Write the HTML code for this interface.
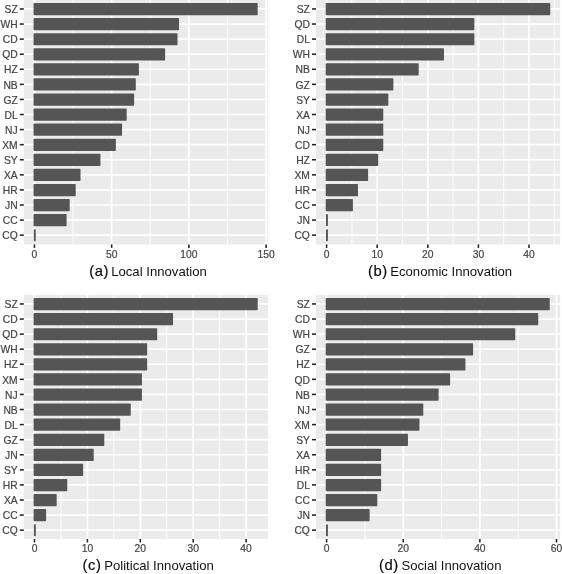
<!DOCTYPE html>
<html><head><meta charset="utf-8"><title>Innovation charts</title>
<style>
html,body{margin:0;padding:0;background:#fff;}
svg{display:block;}
text{font-family:"Liberation Sans",Arial,Helvetica,sans-serif;}
.ax{font-size:10.3px;fill:#444;stroke:#444;stroke-width:0.2px;}
.cap{font-size:13.15px;fill:#111;}
.capl{font-size:14.8px;letter-spacing:0.6px;fill:#0a0a0a;stroke:#0a0a0a;stroke-width:0.18px;}
</style></head><body>
<svg width="562" height="574" viewBox="0 0 562 574">
<rect width="562" height="574" fill="#ffffff"/>

<g>
<rect x="23.80" y="0.00" width="244.00" height="244.40" fill="#ebebeb"/>
<line x1="73.06" y1="0.00" x2="73.06" y2="244.40" stroke="#fff" stroke-width="0.9"/>
<line x1="150.29" y1="0.00" x2="150.29" y2="244.40" stroke="#fff" stroke-width="0.9"/>
<line x1="227.51" y1="0.00" x2="227.51" y2="244.40" stroke="#fff" stroke-width="0.9"/>
<line x1="34.45" y1="0.00" x2="34.45" y2="244.40" stroke="#fff" stroke-width="1.7"/>
<line x1="111.67" y1="0.00" x2="111.67" y2="244.40" stroke="#fff" stroke-width="1.7"/>
<line x1="188.90" y1="0.00" x2="188.90" y2="244.40" stroke="#fff" stroke-width="1.7"/>
<line x1="266.12" y1="0.00" x2="266.12" y2="244.40" stroke="#fff" stroke-width="1.7"/>
<line x1="23.80" y1="8.95" x2="267.80" y2="8.95" stroke="#fff" stroke-width="1.7"/>
<line x1="23.80" y1="24.03" x2="267.80" y2="24.03" stroke="#fff" stroke-width="1.7"/>
<line x1="23.80" y1="39.11" x2="267.80" y2="39.11" stroke="#fff" stroke-width="1.7"/>
<line x1="23.80" y1="54.19" x2="267.80" y2="54.19" stroke="#fff" stroke-width="1.7"/>
<line x1="23.80" y1="69.27" x2="267.80" y2="69.27" stroke="#fff" stroke-width="1.7"/>
<line x1="23.80" y1="84.35" x2="267.80" y2="84.35" stroke="#fff" stroke-width="1.7"/>
<line x1="23.80" y1="99.43" x2="267.80" y2="99.43" stroke="#fff" stroke-width="1.7"/>
<line x1="23.80" y1="114.51" x2="267.80" y2="114.51" stroke="#fff" stroke-width="1.7"/>
<line x1="23.80" y1="129.59" x2="267.80" y2="129.59" stroke="#fff" stroke-width="1.7"/>
<line x1="23.80" y1="144.67" x2="267.80" y2="144.67" stroke="#fff" stroke-width="1.7"/>
<line x1="23.80" y1="159.75" x2="267.80" y2="159.75" stroke="#fff" stroke-width="1.7"/>
<line x1="23.80" y1="174.83" x2="267.80" y2="174.83" stroke="#fff" stroke-width="1.7"/>
<line x1="23.80" y1="189.91" x2="267.80" y2="189.91" stroke="#fff" stroke-width="1.7"/>
<line x1="23.80" y1="204.99" x2="267.80" y2="204.99" stroke="#fff" stroke-width="1.7"/>
<line x1="23.80" y1="220.07" x2="267.80" y2="220.07" stroke="#fff" stroke-width="1.7"/>
<line x1="23.80" y1="235.15" x2="267.80" y2="235.15" stroke="#fff" stroke-width="1.7"/>
<rect x="33.55" y="2.97" width="224.12" height="12.20" rx="0.7" fill="#555555"/>
<rect x="33.55" y="18.05" width="145.50" height="12.20" rx="0.7" fill="#555555"/>
<rect x="33.55" y="33.13" width="143.96" height="12.20" rx="0.7" fill="#555555"/>
<rect x="33.55" y="48.21" width="131.60" height="12.20" rx="0.7" fill="#555555"/>
<rect x="33.55" y="63.29" width="105.34" height="12.20" rx="0.7" fill="#555555"/>
<rect x="33.55" y="78.37" width="102.26" height="12.20" rx="0.7" fill="#555555"/>
<rect x="33.55" y="93.45" width="100.56" height="12.20" rx="0.7" fill="#555555"/>
<rect x="33.55" y="108.53" width="93.14" height="12.20" rx="0.7" fill="#555555"/>
<rect x="33.55" y="123.61" width="88.51" height="12.20" rx="0.7" fill="#555555"/>
<rect x="33.55" y="138.69" width="82.33" height="12.20" rx="0.7" fill="#555555"/>
<rect x="33.55" y="153.77" width="66.89" height="12.20" rx="0.7" fill="#555555"/>
<rect x="33.55" y="168.85" width="46.96" height="12.20" rx="0.7" fill="#555555"/>
<rect x="33.55" y="183.93" width="42.17" height="12.20" rx="0.7" fill="#555555"/>
<rect x="33.55" y="199.01" width="36.15" height="12.20" rx="0.7" fill="#555555"/>
<rect x="33.55" y="214.09" width="33.06" height="12.20" rx="0.7" fill="#555555"/>
<rect x="33.85" y="229.17" width="1.90" height="12.20" rx="0.7" fill="#555555"/>
<line x1="19.80" y1="8.95" x2="23.80" y2="8.95" stroke="#222" stroke-width="1.55"/>
<text class="ax" x="17.70" y="13.10" text-anchor="end">SZ</text>
<line x1="19.80" y1="24.03" x2="23.80" y2="24.03" stroke="#222" stroke-width="1.55"/>
<text class="ax" x="17.70" y="28.18" text-anchor="end">WH</text>
<line x1="19.80" y1="39.11" x2="23.80" y2="39.11" stroke="#222" stroke-width="1.55"/>
<text class="ax" x="17.70" y="43.26" text-anchor="end">CD</text>
<line x1="19.80" y1="54.19" x2="23.80" y2="54.19" stroke="#222" stroke-width="1.55"/>
<text class="ax" x="17.70" y="58.34" text-anchor="end">QD</text>
<line x1="19.80" y1="69.27" x2="23.80" y2="69.27" stroke="#222" stroke-width="1.55"/>
<text class="ax" x="17.70" y="73.42" text-anchor="end">HZ</text>
<line x1="19.80" y1="84.35" x2="23.80" y2="84.35" stroke="#222" stroke-width="1.55"/>
<text class="ax" x="17.70" y="88.50" text-anchor="end">NB</text>
<line x1="19.80" y1="99.43" x2="23.80" y2="99.43" stroke="#222" stroke-width="1.55"/>
<text class="ax" x="17.70" y="103.58" text-anchor="end">GZ</text>
<line x1="19.80" y1="114.51" x2="23.80" y2="114.51" stroke="#222" stroke-width="1.55"/>
<text class="ax" x="17.70" y="118.66" text-anchor="end">DL</text>
<line x1="19.80" y1="129.59" x2="23.80" y2="129.59" stroke="#222" stroke-width="1.55"/>
<text class="ax" x="17.70" y="133.74" text-anchor="end">NJ</text>
<line x1="19.80" y1="144.67" x2="23.80" y2="144.67" stroke="#222" stroke-width="1.55"/>
<text class="ax" x="17.70" y="148.82" text-anchor="end">XM</text>
<line x1="19.80" y1="159.75" x2="23.80" y2="159.75" stroke="#222" stroke-width="1.55"/>
<text class="ax" x="17.70" y="163.90" text-anchor="end">SY</text>
<line x1="19.80" y1="174.83" x2="23.80" y2="174.83" stroke="#222" stroke-width="1.55"/>
<text class="ax" x="17.70" y="178.98" text-anchor="end">XA</text>
<line x1="19.80" y1="189.91" x2="23.80" y2="189.91" stroke="#222" stroke-width="1.55"/>
<text class="ax" x="17.70" y="194.06" text-anchor="end">HR</text>
<line x1="19.80" y1="204.99" x2="23.80" y2="204.99" stroke="#222" stroke-width="1.55"/>
<text class="ax" x="17.70" y="209.14" text-anchor="end">JN</text>
<line x1="19.80" y1="220.07" x2="23.80" y2="220.07" stroke="#222" stroke-width="1.55"/>
<text class="ax" x="17.70" y="224.22" text-anchor="end">CC</text>
<line x1="19.80" y1="235.15" x2="23.80" y2="235.15" stroke="#222" stroke-width="1.55"/>
<text class="ax" x="17.70" y="239.30" text-anchor="end">CQ</text>
<line x1="34.45" y1="244.40" x2="34.45" y2="247.90" stroke="#222" stroke-width="1.55"/>
<text class="ax" x="34.45" y="257.90" text-anchor="middle">0</text>
<line x1="111.67" y1="244.40" x2="111.67" y2="247.90" stroke="#222" stroke-width="1.55"/>
<text class="ax" x="111.67" y="257.90" text-anchor="middle">50</text>
<line x1="188.90" y1="244.40" x2="188.90" y2="247.90" stroke="#222" stroke-width="1.55"/>
<text class="ax" x="188.90" y="257.90" text-anchor="middle">100</text>
<line x1="266.12" y1="244.40" x2="266.12" y2="247.90" stroke="#222" stroke-width="1.55"/>
<text class="ax" x="266.12" y="257.90" text-anchor="middle">150</text>
<text class="capl" x="89.20" y="275.95">(a)</text>
<text class="cap" x="111.20" y="275.95">Local Innovation</text>
</g>
<g>
<rect x="316.00" y="0.00" width="244.20" height="244.40" fill="#ebebeb"/>
<line x1="351.90" y1="0.00" x2="351.90" y2="244.40" stroke="#fff" stroke-width="0.9"/>
<line x1="402.50" y1="0.00" x2="402.50" y2="244.40" stroke="#fff" stroke-width="0.9"/>
<line x1="453.10" y1="0.00" x2="453.10" y2="244.40" stroke="#fff" stroke-width="0.9"/>
<line x1="503.70" y1="0.00" x2="503.70" y2="244.40" stroke="#fff" stroke-width="0.9"/>
<line x1="554.30" y1="0.00" x2="554.30" y2="244.40" stroke="#fff" stroke-width="0.9"/>
<line x1="326.60" y1="0.00" x2="326.60" y2="244.40" stroke="#fff" stroke-width="1.7"/>
<line x1="377.20" y1="0.00" x2="377.20" y2="244.40" stroke="#fff" stroke-width="1.7"/>
<line x1="427.80" y1="0.00" x2="427.80" y2="244.40" stroke="#fff" stroke-width="1.7"/>
<line x1="478.40" y1="0.00" x2="478.40" y2="244.40" stroke="#fff" stroke-width="1.7"/>
<line x1="529.00" y1="0.00" x2="529.00" y2="244.40" stroke="#fff" stroke-width="1.7"/>
<line x1="316.00" y1="8.95" x2="560.20" y2="8.95" stroke="#fff" stroke-width="1.7"/>
<line x1="316.00" y1="24.03" x2="560.20" y2="24.03" stroke="#fff" stroke-width="1.7"/>
<line x1="316.00" y1="39.11" x2="560.20" y2="39.11" stroke="#fff" stroke-width="1.7"/>
<line x1="316.00" y1="54.19" x2="560.20" y2="54.19" stroke="#fff" stroke-width="1.7"/>
<line x1="316.00" y1="69.27" x2="560.20" y2="69.27" stroke="#fff" stroke-width="1.7"/>
<line x1="316.00" y1="84.35" x2="560.20" y2="84.35" stroke="#fff" stroke-width="1.7"/>
<line x1="316.00" y1="99.43" x2="560.20" y2="99.43" stroke="#fff" stroke-width="1.7"/>
<line x1="316.00" y1="114.51" x2="560.20" y2="114.51" stroke="#fff" stroke-width="1.7"/>
<line x1="316.00" y1="129.59" x2="560.20" y2="129.59" stroke="#fff" stroke-width="1.7"/>
<line x1="316.00" y1="144.67" x2="560.20" y2="144.67" stroke="#fff" stroke-width="1.7"/>
<line x1="316.00" y1="159.75" x2="560.20" y2="159.75" stroke="#fff" stroke-width="1.7"/>
<line x1="316.00" y1="174.83" x2="560.20" y2="174.83" stroke="#fff" stroke-width="1.7"/>
<line x1="316.00" y1="189.91" x2="560.20" y2="189.91" stroke="#fff" stroke-width="1.7"/>
<line x1="316.00" y1="204.99" x2="560.20" y2="204.99" stroke="#fff" stroke-width="1.7"/>
<line x1="316.00" y1="220.07" x2="560.20" y2="220.07" stroke="#fff" stroke-width="1.7"/>
<line x1="316.00" y1="235.15" x2="560.20" y2="235.15" stroke="#fff" stroke-width="1.7"/>
<rect x="325.70" y="2.97" width="224.55" height="12.20" rx="0.7" fill="#555555"/>
<rect x="325.70" y="18.05" width="148.65" height="12.20" rx="0.7" fill="#555555"/>
<rect x="325.70" y="33.13" width="148.65" height="12.20" rx="0.7" fill="#555555"/>
<rect x="325.70" y="48.21" width="118.29" height="12.20" rx="0.7" fill="#555555"/>
<rect x="325.70" y="63.29" width="92.99" height="12.20" rx="0.7" fill="#555555"/>
<rect x="325.70" y="78.37" width="67.69" height="12.20" rx="0.7" fill="#555555"/>
<rect x="325.70" y="93.45" width="62.63" height="12.20" rx="0.7" fill="#555555"/>
<rect x="325.70" y="108.53" width="57.57" height="12.20" rx="0.7" fill="#555555"/>
<rect x="325.70" y="123.61" width="57.57" height="12.20" rx="0.7" fill="#555555"/>
<rect x="325.70" y="138.69" width="57.57" height="12.20" rx="0.7" fill="#555555"/>
<rect x="325.70" y="153.77" width="52.51" height="12.20" rx="0.7" fill="#555555"/>
<rect x="325.70" y="168.85" width="42.39" height="12.20" rx="0.7" fill="#555555"/>
<rect x="325.70" y="183.93" width="32.27" height="12.20" rx="0.7" fill="#555555"/>
<rect x="325.70" y="199.01" width="27.21" height="12.20" rx="0.7" fill="#555555"/>
<rect x="326.00" y="214.09" width="1.90" height="12.20" rx="0.7" fill="#555555"/>
<rect x="326.00" y="229.17" width="1.90" height="12.20" rx="0.7" fill="#555555"/>
<line x1="312.00" y1="8.95" x2="316.00" y2="8.95" stroke="#222" stroke-width="1.55"/>
<text class="ax" x="309.90" y="13.10" text-anchor="end">SZ</text>
<line x1="312.00" y1="24.03" x2="316.00" y2="24.03" stroke="#222" stroke-width="1.55"/>
<text class="ax" x="309.90" y="28.18" text-anchor="end">QD</text>
<line x1="312.00" y1="39.11" x2="316.00" y2="39.11" stroke="#222" stroke-width="1.55"/>
<text class="ax" x="309.90" y="43.26" text-anchor="end">DL</text>
<line x1="312.00" y1="54.19" x2="316.00" y2="54.19" stroke="#222" stroke-width="1.55"/>
<text class="ax" x="309.90" y="58.34" text-anchor="end">WH</text>
<line x1="312.00" y1="69.27" x2="316.00" y2="69.27" stroke="#222" stroke-width="1.55"/>
<text class="ax" x="309.90" y="73.42" text-anchor="end">NB</text>
<line x1="312.00" y1="84.35" x2="316.00" y2="84.35" stroke="#222" stroke-width="1.55"/>
<text class="ax" x="309.90" y="88.50" text-anchor="end">GZ</text>
<line x1="312.00" y1="99.43" x2="316.00" y2="99.43" stroke="#222" stroke-width="1.55"/>
<text class="ax" x="309.90" y="103.58" text-anchor="end">SY</text>
<line x1="312.00" y1="114.51" x2="316.00" y2="114.51" stroke="#222" stroke-width="1.55"/>
<text class="ax" x="309.90" y="118.66" text-anchor="end">XA</text>
<line x1="312.00" y1="129.59" x2="316.00" y2="129.59" stroke="#222" stroke-width="1.55"/>
<text class="ax" x="309.90" y="133.74" text-anchor="end">NJ</text>
<line x1="312.00" y1="144.67" x2="316.00" y2="144.67" stroke="#222" stroke-width="1.55"/>
<text class="ax" x="309.90" y="148.82" text-anchor="end">CD</text>
<line x1="312.00" y1="159.75" x2="316.00" y2="159.75" stroke="#222" stroke-width="1.55"/>
<text class="ax" x="309.90" y="163.90" text-anchor="end">HZ</text>
<line x1="312.00" y1="174.83" x2="316.00" y2="174.83" stroke="#222" stroke-width="1.55"/>
<text class="ax" x="309.90" y="178.98" text-anchor="end">XM</text>
<line x1="312.00" y1="189.91" x2="316.00" y2="189.91" stroke="#222" stroke-width="1.55"/>
<text class="ax" x="309.90" y="194.06" text-anchor="end">HR</text>
<line x1="312.00" y1="204.99" x2="316.00" y2="204.99" stroke="#222" stroke-width="1.55"/>
<text class="ax" x="309.90" y="209.14" text-anchor="end">CC</text>
<line x1="312.00" y1="220.07" x2="316.00" y2="220.07" stroke="#222" stroke-width="1.55"/>
<text class="ax" x="309.90" y="224.22" text-anchor="end">JN</text>
<line x1="312.00" y1="235.15" x2="316.00" y2="235.15" stroke="#222" stroke-width="1.55"/>
<text class="ax" x="309.90" y="239.30" text-anchor="end">CQ</text>
<line x1="326.60" y1="244.40" x2="326.60" y2="247.90" stroke="#222" stroke-width="1.55"/>
<text class="ax" x="326.60" y="257.90" text-anchor="middle">0</text>
<line x1="377.20" y1="244.40" x2="377.20" y2="247.90" stroke="#222" stroke-width="1.55"/>
<text class="ax" x="377.20" y="257.90" text-anchor="middle">10</text>
<line x1="427.80" y1="244.40" x2="427.80" y2="247.90" stroke="#222" stroke-width="1.55"/>
<text class="ax" x="427.80" y="257.90" text-anchor="middle">20</text>
<line x1="478.40" y1="244.40" x2="478.40" y2="247.90" stroke="#222" stroke-width="1.55"/>
<text class="ax" x="478.40" y="257.90" text-anchor="middle">30</text>
<line x1="529.00" y1="244.40" x2="529.00" y2="247.90" stroke="#222" stroke-width="1.55"/>
<text class="ax" x="529.00" y="257.90" text-anchor="middle">40</text>
<text class="capl" x="368.00" y="275.95">(b)</text>
<text class="cap" x="390.20" y="275.95">Economic Innovation</text>
</g>
<g>
<rect x="23.80" y="294.90" width="244.20" height="244.05" fill="#ebebeb"/>
<line x1="60.95" y1="294.90" x2="60.95" y2="538.95" stroke="#fff" stroke-width="0.9"/>
<line x1="113.85" y1="294.90" x2="113.85" y2="538.95" stroke="#fff" stroke-width="0.9"/>
<line x1="166.75" y1="294.90" x2="166.75" y2="538.95" stroke="#fff" stroke-width="0.9"/>
<line x1="219.65" y1="294.90" x2="219.65" y2="538.95" stroke="#fff" stroke-width="0.9"/>
<line x1="34.50" y1="294.90" x2="34.50" y2="538.95" stroke="#fff" stroke-width="1.7"/>
<line x1="87.40" y1="294.90" x2="87.40" y2="538.95" stroke="#fff" stroke-width="1.7"/>
<line x1="140.30" y1="294.90" x2="140.30" y2="538.95" stroke="#fff" stroke-width="1.7"/>
<line x1="193.20" y1="294.90" x2="193.20" y2="538.95" stroke="#fff" stroke-width="1.7"/>
<line x1="246.10" y1="294.90" x2="246.10" y2="538.95" stroke="#fff" stroke-width="1.7"/>
<line x1="23.80" y1="303.95" x2="268.00" y2="303.95" stroke="#fff" stroke-width="1.7"/>
<line x1="23.80" y1="319.03" x2="268.00" y2="319.03" stroke="#fff" stroke-width="1.7"/>
<line x1="23.80" y1="334.11" x2="268.00" y2="334.11" stroke="#fff" stroke-width="1.7"/>
<line x1="23.80" y1="349.19" x2="268.00" y2="349.19" stroke="#fff" stroke-width="1.7"/>
<line x1="23.80" y1="364.27" x2="268.00" y2="364.27" stroke="#fff" stroke-width="1.7"/>
<line x1="23.80" y1="379.35" x2="268.00" y2="379.35" stroke="#fff" stroke-width="1.7"/>
<line x1="23.80" y1="394.43" x2="268.00" y2="394.43" stroke="#fff" stroke-width="1.7"/>
<line x1="23.80" y1="409.51" x2="268.00" y2="409.51" stroke="#fff" stroke-width="1.7"/>
<line x1="23.80" y1="424.59" x2="268.00" y2="424.59" stroke="#fff" stroke-width="1.7"/>
<line x1="23.80" y1="439.67" x2="268.00" y2="439.67" stroke="#fff" stroke-width="1.7"/>
<line x1="23.80" y1="454.75" x2="268.00" y2="454.75" stroke="#fff" stroke-width="1.7"/>
<line x1="23.80" y1="469.83" x2="268.00" y2="469.83" stroke="#fff" stroke-width="1.7"/>
<line x1="23.80" y1="484.91" x2="268.00" y2="484.91" stroke="#fff" stroke-width="1.7"/>
<line x1="23.80" y1="499.99" x2="268.00" y2="499.99" stroke="#fff" stroke-width="1.7"/>
<line x1="23.80" y1="515.07" x2="268.00" y2="515.07" stroke="#fff" stroke-width="1.7"/>
<line x1="23.80" y1="530.15" x2="268.00" y2="530.15" stroke="#fff" stroke-width="1.7"/>
<rect x="33.60" y="297.97" width="224.11" height="12.20" rx="0.7" fill="#555555"/>
<rect x="33.60" y="313.05" width="139.47" height="12.20" rx="0.7" fill="#555555"/>
<rect x="33.60" y="328.13" width="123.60" height="12.20" rx="0.7" fill="#555555"/>
<rect x="33.60" y="343.21" width="113.55" height="12.20" rx="0.7" fill="#555555"/>
<rect x="33.60" y="358.29" width="113.55" height="12.20" rx="0.7" fill="#555555"/>
<rect x="33.60" y="373.37" width="108.36" height="12.20" rx="0.7" fill="#555555"/>
<rect x="33.60" y="388.45" width="108.36" height="12.20" rx="0.7" fill="#555555"/>
<rect x="33.60" y="403.53" width="97.15" height="12.20" rx="0.7" fill="#555555"/>
<rect x="33.60" y="418.61" width="86.57" height="12.20" rx="0.7" fill="#555555"/>
<rect x="33.60" y="433.69" width="70.70" height="12.20" rx="0.7" fill="#555555"/>
<rect x="33.60" y="448.77" width="60.12" height="12.20" rx="0.7" fill="#555555"/>
<rect x="33.60" y="463.85" width="49.54" height="12.20" rx="0.7" fill="#555555"/>
<rect x="33.60" y="478.93" width="33.67" height="12.20" rx="0.7" fill="#555555"/>
<rect x="33.60" y="494.01" width="23.09" height="12.20" rx="0.7" fill="#555555"/>
<rect x="33.60" y="509.09" width="12.51" height="12.20" rx="0.7" fill="#555555"/>
<rect x="33.90" y="524.17" width="1.90" height="12.20" rx="0.7" fill="#555555"/>
<line x1="19.80" y1="303.95" x2="23.80" y2="303.95" stroke="#222" stroke-width="1.55"/>
<text class="ax" x="17.70" y="308.10" text-anchor="end">SZ</text>
<line x1="19.80" y1="319.03" x2="23.80" y2="319.03" stroke="#222" stroke-width="1.55"/>
<text class="ax" x="17.70" y="323.18" text-anchor="end">CD</text>
<line x1="19.80" y1="334.11" x2="23.80" y2="334.11" stroke="#222" stroke-width="1.55"/>
<text class="ax" x="17.70" y="338.26" text-anchor="end">QD</text>
<line x1="19.80" y1="349.19" x2="23.80" y2="349.19" stroke="#222" stroke-width="1.55"/>
<text class="ax" x="17.70" y="353.34" text-anchor="end">WH</text>
<line x1="19.80" y1="364.27" x2="23.80" y2="364.27" stroke="#222" stroke-width="1.55"/>
<text class="ax" x="17.70" y="368.42" text-anchor="end">HZ</text>
<line x1="19.80" y1="379.35" x2="23.80" y2="379.35" stroke="#222" stroke-width="1.55"/>
<text class="ax" x="17.70" y="383.50" text-anchor="end">XM</text>
<line x1="19.80" y1="394.43" x2="23.80" y2="394.43" stroke="#222" stroke-width="1.55"/>
<text class="ax" x="17.70" y="398.58" text-anchor="end">NJ</text>
<line x1="19.80" y1="409.51" x2="23.80" y2="409.51" stroke="#222" stroke-width="1.55"/>
<text class="ax" x="17.70" y="413.66" text-anchor="end">NB</text>
<line x1="19.80" y1="424.59" x2="23.80" y2="424.59" stroke="#222" stroke-width="1.55"/>
<text class="ax" x="17.70" y="428.74" text-anchor="end">DL</text>
<line x1="19.80" y1="439.67" x2="23.80" y2="439.67" stroke="#222" stroke-width="1.55"/>
<text class="ax" x="17.70" y="443.82" text-anchor="end">GZ</text>
<line x1="19.80" y1="454.75" x2="23.80" y2="454.75" stroke="#222" stroke-width="1.55"/>
<text class="ax" x="17.70" y="458.90" text-anchor="end">JN</text>
<line x1="19.80" y1="469.83" x2="23.80" y2="469.83" stroke="#222" stroke-width="1.55"/>
<text class="ax" x="17.70" y="473.98" text-anchor="end">SY</text>
<line x1="19.80" y1="484.91" x2="23.80" y2="484.91" stroke="#222" stroke-width="1.55"/>
<text class="ax" x="17.70" y="489.06" text-anchor="end">HR</text>
<line x1="19.80" y1="499.99" x2="23.80" y2="499.99" stroke="#222" stroke-width="1.55"/>
<text class="ax" x="17.70" y="504.14" text-anchor="end">XA</text>
<line x1="19.80" y1="515.07" x2="23.80" y2="515.07" stroke="#222" stroke-width="1.55"/>
<text class="ax" x="17.70" y="519.22" text-anchor="end">CC</text>
<line x1="19.80" y1="530.15" x2="23.80" y2="530.15" stroke="#222" stroke-width="1.55"/>
<text class="ax" x="17.70" y="534.30" text-anchor="end">CQ</text>
<line x1="34.50" y1="538.95" x2="34.50" y2="542.45" stroke="#222" stroke-width="1.55"/>
<text class="ax" x="34.50" y="552.45" text-anchor="middle">0</text>
<line x1="87.40" y1="538.95" x2="87.40" y2="542.45" stroke="#222" stroke-width="1.55"/>
<text class="ax" x="87.40" y="552.45" text-anchor="middle">10</text>
<line x1="140.30" y1="538.95" x2="140.30" y2="542.45" stroke="#222" stroke-width="1.55"/>
<text class="ax" x="140.30" y="552.45" text-anchor="middle">20</text>
<line x1="193.20" y1="538.95" x2="193.20" y2="542.45" stroke="#222" stroke-width="1.55"/>
<text class="ax" x="193.20" y="552.45" text-anchor="middle">30</text>
<line x1="246.10" y1="538.95" x2="246.10" y2="542.45" stroke="#222" stroke-width="1.55"/>
<text class="ax" x="246.10" y="552.45" text-anchor="middle">40</text>
<text class="capl" x="82.40" y="569.80">(c)</text>
<text class="cap" x="104.20" y="569.80">Political Innovation</text>
</g>
<g>
<rect x="316.00" y="294.90" width="244.20" height="244.05" fill="#ebebeb"/>
<line x1="364.92" y1="294.90" x2="364.92" y2="538.95" stroke="#fff" stroke-width="0.9"/>
<line x1="441.56" y1="294.90" x2="441.56" y2="538.95" stroke="#fff" stroke-width="0.9"/>
<line x1="518.20" y1="294.90" x2="518.20" y2="538.95" stroke="#fff" stroke-width="0.9"/>
<line x1="326.60" y1="294.90" x2="326.60" y2="538.95" stroke="#fff" stroke-width="1.7"/>
<line x1="403.24" y1="294.90" x2="403.24" y2="538.95" stroke="#fff" stroke-width="1.7"/>
<line x1="479.88" y1="294.90" x2="479.88" y2="538.95" stroke="#fff" stroke-width="1.7"/>
<line x1="556.52" y1="294.90" x2="556.52" y2="538.95" stroke="#fff" stroke-width="1.7"/>
<line x1="316.00" y1="303.95" x2="560.20" y2="303.95" stroke="#fff" stroke-width="1.7"/>
<line x1="316.00" y1="319.03" x2="560.20" y2="319.03" stroke="#fff" stroke-width="1.7"/>
<line x1="316.00" y1="334.11" x2="560.20" y2="334.11" stroke="#fff" stroke-width="1.7"/>
<line x1="316.00" y1="349.19" x2="560.20" y2="349.19" stroke="#fff" stroke-width="1.7"/>
<line x1="316.00" y1="364.27" x2="560.20" y2="364.27" stroke="#fff" stroke-width="1.7"/>
<line x1="316.00" y1="379.35" x2="560.20" y2="379.35" stroke="#fff" stroke-width="1.7"/>
<line x1="316.00" y1="394.43" x2="560.20" y2="394.43" stroke="#fff" stroke-width="1.7"/>
<line x1="316.00" y1="409.51" x2="560.20" y2="409.51" stroke="#fff" stroke-width="1.7"/>
<line x1="316.00" y1="424.59" x2="560.20" y2="424.59" stroke="#fff" stroke-width="1.7"/>
<line x1="316.00" y1="439.67" x2="560.20" y2="439.67" stroke="#fff" stroke-width="1.7"/>
<line x1="316.00" y1="454.75" x2="560.20" y2="454.75" stroke="#fff" stroke-width="1.7"/>
<line x1="316.00" y1="469.83" x2="560.20" y2="469.83" stroke="#fff" stroke-width="1.7"/>
<line x1="316.00" y1="484.91" x2="560.20" y2="484.91" stroke="#fff" stroke-width="1.7"/>
<line x1="316.00" y1="499.99" x2="560.20" y2="499.99" stroke="#fff" stroke-width="1.7"/>
<line x1="316.00" y1="515.07" x2="560.20" y2="515.07" stroke="#fff" stroke-width="1.7"/>
<line x1="316.00" y1="530.15" x2="560.20" y2="530.15" stroke="#fff" stroke-width="1.7"/>
<rect x="325.70" y="297.97" width="224.04" height="12.20" rx="0.7" fill="#555555"/>
<rect x="325.70" y="313.05" width="212.54" height="12.20" rx="0.7" fill="#555555"/>
<rect x="325.70" y="328.13" width="189.55" height="12.20" rx="0.7" fill="#555555"/>
<rect x="325.70" y="343.21" width="147.40" height="12.20" rx="0.7" fill="#555555"/>
<rect x="325.70" y="358.29" width="139.74" height="12.20" rx="0.7" fill="#555555"/>
<rect x="325.70" y="373.37" width="124.41" height="12.20" rx="0.7" fill="#555555"/>
<rect x="325.70" y="388.45" width="112.91" height="12.20" rx="0.7" fill="#555555"/>
<rect x="325.70" y="403.53" width="97.58" height="12.20" rx="0.7" fill="#555555"/>
<rect x="325.70" y="418.61" width="93.75" height="12.20" rx="0.7" fill="#555555"/>
<rect x="325.70" y="433.69" width="82.26" height="12.20" rx="0.7" fill="#555555"/>
<rect x="325.70" y="448.77" width="55.43" height="12.20" rx="0.7" fill="#555555"/>
<rect x="325.70" y="463.85" width="55.43" height="12.20" rx="0.7" fill="#555555"/>
<rect x="325.70" y="478.93" width="55.43" height="12.20" rx="0.7" fill="#555555"/>
<rect x="325.70" y="494.01" width="51.60" height="12.20" rx="0.7" fill="#555555"/>
<rect x="325.70" y="509.09" width="43.94" height="12.20" rx="0.7" fill="#555555"/>
<rect x="326.00" y="524.17" width="1.90" height="12.20" rx="0.7" fill="#555555"/>
<line x1="312.00" y1="303.95" x2="316.00" y2="303.95" stroke="#222" stroke-width="1.55"/>
<text class="ax" x="309.90" y="308.10" text-anchor="end">SZ</text>
<line x1="312.00" y1="319.03" x2="316.00" y2="319.03" stroke="#222" stroke-width="1.55"/>
<text class="ax" x="309.90" y="323.18" text-anchor="end">CD</text>
<line x1="312.00" y1="334.11" x2="316.00" y2="334.11" stroke="#222" stroke-width="1.55"/>
<text class="ax" x="309.90" y="338.26" text-anchor="end">WH</text>
<line x1="312.00" y1="349.19" x2="316.00" y2="349.19" stroke="#222" stroke-width="1.55"/>
<text class="ax" x="309.90" y="353.34" text-anchor="end">GZ</text>
<line x1="312.00" y1="364.27" x2="316.00" y2="364.27" stroke="#222" stroke-width="1.55"/>
<text class="ax" x="309.90" y="368.42" text-anchor="end">HZ</text>
<line x1="312.00" y1="379.35" x2="316.00" y2="379.35" stroke="#222" stroke-width="1.55"/>
<text class="ax" x="309.90" y="383.50" text-anchor="end">QD</text>
<line x1="312.00" y1="394.43" x2="316.00" y2="394.43" stroke="#222" stroke-width="1.55"/>
<text class="ax" x="309.90" y="398.58" text-anchor="end">NB</text>
<line x1="312.00" y1="409.51" x2="316.00" y2="409.51" stroke="#222" stroke-width="1.55"/>
<text class="ax" x="309.90" y="413.66" text-anchor="end">NJ</text>
<line x1="312.00" y1="424.59" x2="316.00" y2="424.59" stroke="#222" stroke-width="1.55"/>
<text class="ax" x="309.90" y="428.74" text-anchor="end">XM</text>
<line x1="312.00" y1="439.67" x2="316.00" y2="439.67" stroke="#222" stroke-width="1.55"/>
<text class="ax" x="309.90" y="443.82" text-anchor="end">SY</text>
<line x1="312.00" y1="454.75" x2="316.00" y2="454.75" stroke="#222" stroke-width="1.55"/>
<text class="ax" x="309.90" y="458.90" text-anchor="end">XA</text>
<line x1="312.00" y1="469.83" x2="316.00" y2="469.83" stroke="#222" stroke-width="1.55"/>
<text class="ax" x="309.90" y="473.98" text-anchor="end">HR</text>
<line x1="312.00" y1="484.91" x2="316.00" y2="484.91" stroke="#222" stroke-width="1.55"/>
<text class="ax" x="309.90" y="489.06" text-anchor="end">DL</text>
<line x1="312.00" y1="499.99" x2="316.00" y2="499.99" stroke="#222" stroke-width="1.55"/>
<text class="ax" x="309.90" y="504.14" text-anchor="end">CC</text>
<line x1="312.00" y1="515.07" x2="316.00" y2="515.07" stroke="#222" stroke-width="1.55"/>
<text class="ax" x="309.90" y="519.22" text-anchor="end">JN</text>
<line x1="312.00" y1="530.15" x2="316.00" y2="530.15" stroke="#222" stroke-width="1.55"/>
<text class="ax" x="309.90" y="534.30" text-anchor="end">CQ</text>
<line x1="326.60" y1="538.95" x2="326.60" y2="542.45" stroke="#222" stroke-width="1.55"/>
<text class="ax" x="326.60" y="552.45" text-anchor="middle">0</text>
<line x1="403.24" y1="538.95" x2="403.24" y2="542.45" stroke="#222" stroke-width="1.55"/>
<text class="ax" x="403.24" y="552.45" text-anchor="middle">20</text>
<line x1="479.88" y1="538.95" x2="479.88" y2="542.45" stroke="#222" stroke-width="1.55"/>
<text class="ax" x="479.88" y="552.45" text-anchor="middle">40</text>
<line x1="556.52" y1="538.95" x2="556.52" y2="542.45" stroke="#222" stroke-width="1.55"/>
<text class="ax" x="556.52" y="552.45" text-anchor="middle">60</text>
<text class="capl" x="379.00" y="569.80">(d)</text>
<text class="cap" x="401.40" y="569.80">Social Innovation</text>
</g>
</svg>
</body></html>
